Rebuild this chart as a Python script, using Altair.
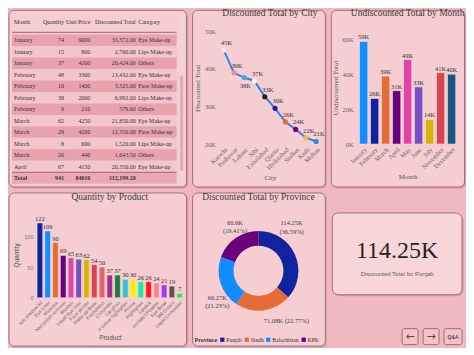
import altair as alt
import pandas as pd

# ---------------- data ----------------
table_header = ["Month", "Quantity", "Unit Price", "Discounted Total", "Category"]
table_month = ["January", "January", "January", "February", "February", "February", "February",
               "March", "March", "March", "March", "April"]
table_qty = [74, 15, 37, 48, 10, 38, 9, 62, 29, 8, 20, 67]
table_price = [9000, 800, 4200, 3300, 1400, 2000, 210, 4250, 4200, 600, 440, 4150]
table_disc = [33372.00, 2760.00, 20424.00, 13432.00, 3325.00, 6992.00, 579.60,
              21850.00, 12350.00, 1520.00, 1643.50, 20350.00]
table_cat = ["Eye Make-up", "Lips Make-up", "Others", "Eye Make-up", "Face Make-up", "Lips Make-up",
             "Others", "Eye Make-up", "Face Make-up", "Lips Make-up", "Others", "Eye Make-up"]
table_total = ["Total", "941", "84010", "312,199.20", ""]

cities = ["Karachi", "Peshawar", "Lahore", "Sibi", "Faisalabad", "Quetta", "Hyderabad",
          "Sialkot", "Kotli", "Multan"]
city_totals = [45000, 38960, 37700, 36800, 32600, 29500, 25900, 23900, 21700, 20700]
city_colors = ["#FBE3E6", "#F08C9B", "#4AA3F0", "#FFF3F4", "#1E1E1E", "#12239E", "#E66C37",
               "#6B007B", "#E5C143", "#2F86E0"]

months = ["January", "February", "March", "April", "May", "June", "July", "November", "December"]
month_totals = [59200, 26300, 39200, 30800, 48700, 33000, 14200, 41200, 40300]
month_colors = ["#118DFF", "#12239E", "#E66C37", "#6B007B", "#E044A7", "#744EC2", "#D9B300",
                "#D64550", "#1C5480"]

products = ["eye shadow kit", "Eye Liner", "Mascara", "Nail polish remover", "Blusher",
            "Liquid Eye liner", "Face primer", "Make-up Base", "Foundation", "Concealer",
            "Lip gloss", "4 colour highlighter", "Primer", "Highlighter", "Lipstick",
            "compact Powder", "Eye Brow", "BB Cream", "Liquid Concealer"]
product_qty = [122, 109, 90, 69, 65, 63, 62, 54, 50, 37, 37, 30, 30, 26, 26, 24, 21, 19, 7]
product_colors = ["#12239E", "#118DFF", "#E66C37", "#6B007B", "#E044A7", "#744EC2", "#D9B300",
                  "#D64550", "#E8606C", "#A0308C", "#1E7B3A", "#35C0D0", "#FFF000", "#20E89A",
                  "#FF1A1A", "#F28A8A", "#A03CF0", "#6A5050", "#2EE82E"]

provinces = ["Punjab", "Sindh", "Balochistan", "KPK"]
province_totals = [114250, 71080, 66270, 60600]
province_pct = [36.59, 22.77, 21.23, 19.41]
province_colors = ["#12239E", "#E66C37", "#118DFF", "#6B007B"]

card_value = "114.25K"
card_caption = "Discounted Total for Punjab"
nav_buttons = ["\u2190", "\u2192", "Q&A"]

# ---------------- style ----------------
SERIF = "Liberation Serif"
SANS = "Liberation Sans"
TXT = "#333333"
AX = "#666666"
AXT = "#555555"
BG = "#F0B9C0"
PANEL_FILL = "#F6CDD1"
CARD_FILL = "#F8D5D8"
PANEL_STROKE = "#A0707A"
STRIPE_D = "#E7A2AB"
STRIPE_L = "#F4C6CB"


def panel(x0, x1, y0, y1, fill=PANEL_FILL, r=5):
    base = alt.Chart(pd.DataFrame({"p": [0]}))
    shadow = base.mark_rect(fill="#8C5A62", opacity=0.3, cornerRadius=r).encode(
        x=alt.value(x0 + 1.5), x2=alt.value(x1 + 1.5), y=alt.value(y0 + 1.5), y2=alt.value(y1 + 1.5))
    face = base.mark_rect(fill=fill, stroke=PANEL_STROKE, strokeWidth=1, cornerRadius=r).encode(
        x=alt.value(x0), x2=alt.value(x1), y=alt.value(y0), y2=alt.value(y1))
    return [shadow, face]


def ptitle(text, offset):
    return alt.TitleParams(text, font=SERIF, fontSize=9.5, fontWeight="normal", color="#3a3a3a",
                           anchor="middle", offset=offset, zindex=1)


def kfmt():
    return "(datum.value / 1000) + 'K'"


def axis(title, font, lsize, tsize, lcolor=AX, **kw):
    return alt.Axis(title=title, labelFont=font, labelFontSize=lsize, labelColor=lcolor,
                    titleFont=font, titleFontSize=tsize, titleFontWeight="normal", titleColor=AXT,
                    grid=False, domain=False, ticks=False, zindex=2, **kw)


# ---------------- table ----------------
ROW1 = 9.0
STEP = 11.5
TH = 113
d0 = 1 - ROW1 / STEP
d1 = d0 + TH / STEP
ty = alt.Scale(domain=[d0, d1], reverse=True, nice=False, zero=False)

body_df = pd.DataFrame({
    "r": list(range(1, 13)),
    "m": table_month,
    "q": [str(v) for v in table_qty],
    "p": [str(v) for v in table_price],
    "d": [f"{v:,.2f}" for v in table_disc],
    "c": table_cat,
    "stripe": ["d" if i % 2 == 0 else "l" for i in range(12)],
})
header_df = pd.DataFrame({"r": [d0 - 9 / STEP], "m": [table_header[0]], "q": [table_header[1]],
                          "p": [table_header[2]], "d": [table_header[3]], "c": [table_header[4]]})
total_df = pd.DataFrame({"r": [13], "m": [table_total[0]], "q": [table_total[1]],
                         "p": [table_total[2]], "d": [table_total[3]], "c": [table_total[4]]})

col_pos = {"m": (-22, "left"), "q": (28, "right"), "p": (54.5, "right"), "d": (100, "right"),
           "c": (102.5, "left")}


def tcols(df, bold=False):
    out = []
    for f, (px, al) in col_pos.items():
        out.append(alt.Chart(df).mark_text(align=al, baseline="middle", font=SERIF, fontSize=6,
                                           fontWeight="bold" if bold else "normal", color=TXT).encode(
            x=alt.value(px), y=alt.Y("r:Q", scale=ty, axis=None), text=f"{f}:N"))
    return out


stripes = alt.Chart(body_df).transform_calculate(lo="datum.r - 0.5", hi="datum.r + 0.5").mark_rect().encode(
    x=alt.value(-24), x2=alt.value(141),
    y=alt.Y("lo:Q", scale=ty, axis=None), y2="hi:Q",
    color=alt.Color("stripe:N", scale=alt.Scale(domain=["d", "l"], range=[STRIPE_D, STRIPE_L]), legend=None))
total_bg = alt.Chart(total_df).transform_calculate(lo="datum.r - 0.5", hi="datum.r + 0.5").mark_rect(
    fill="#EBA8B0").encode(x=alt.value(-24), x2=alt.value(141),
                           y=alt.Y("lo:Q", scale=ty, axis=None), y2="hi:Q")
lines_df = pd.DataFrame({"y": [d0 + 1 / STEP, 12.5]})
tlines = alt.Chart(lines_df).mark_rule(color="#9A6470", strokeWidth=1).encode(
    x=alt.value(-24), x2=alt.value(141), y=alt.Y("y:Q", scale=ty, axis=None))
sb = alt.Chart(pd.DataFrame({"p": [0]}))
scroll_track = sb.mark_rect(fill="#F3D3D6", cornerRadius=2).encode(
    x=alt.value(144), x2=alt.value(148), y=alt.value(-17), y2=alt.value(150))
scroll_thumb = sb.mark_rect(fill="#E2AAB2", cornerRadius=2).encode(
    x=alt.value(144.5), x2=alt.value(147.5), y=alt.value(44), y2=alt.value(140))

table_c = alt.layer(*panel(-27, 151, -21, 156), stripes, total_bg, tlines, scroll_track, scroll_thumb,
                    *tcols(header_df), *tcols(body_df), *tcols(total_df, bold=True)).properties(
    width=148, height=TH)

# ---------------- city line ----------------
city_df = pd.DataFrame({"City": cities, "Total": city_totals})
cx = alt.X("City:N", sort=cities, scale=alt.Scale(padding=0.5),
           axis=axis("City", SERIF, 6.5, 7, labelAngle=-45, labelPadding=2, titlePadding=3))
cy = alt.Y("Total:Q", scale=alt.Scale(domain=[20000, 50000], nice=False, zero=False),
           axis=axis("Discounted Total", SERIF, 6.5, 7, values=[20000, 30000, 40000, 50000],
                     labelExpr=kfmt(), labelPadding=3, titlePadding=4))
cbase = alt.Chart(city_df).encode(x=cx, y=cy)
city_line = cbase.mark_line(color="#2F86E0", strokeWidth=2)
city_pts = cbase.mark_circle(size=26, opacity=1).encode(
    color=alt.Color("City:N", scale=alt.Scale(domain=cities, range=city_colors), legend=None))
city_lbl = cbase.transform_calculate(lbl="round(datum.Total / 1000) + 'K'").transform_filter(
    "datum.City != 'Lahore'").mark_text(font=SERIF, fontSize=6.5, color=TXT, dx=3, dy=-7).encode(text="lbl:N")
city_lbl2 = cbase.transform_calculate(lbl="round(datum.Total / 1000) + 'K'").transform_filter(
    "datum.City == 'Lahore'").mark_text(font=SERIF, fontSize=6.5, color=TXT, dx=1, dy=8).encode(text="lbl:N")
city_c = alt.layer(*panel(-26, 107, -21, 156), city_line, city_pts, city_lbl, city_lbl2).properties(
    width=103, height=113, title=ptitle("Discounted Total by City", -8))

# ---------------- month bars ----------------
month_df = pd.DataFrame({"Month": months, "Total": month_totals})
mx = alt.X("Month:N", sort=months, scale=alt.Scale(paddingInner=0.25, paddingOuter=0.3),
           axis=axis("Month", SERIF, 6.5, 7, labelAngle=-45, labelPadding=2, titlePadding=3))
my = alt.Y("Total:Q", scale=alt.Scale(domain=[0, 65000], nice=False),
           axis=axis("Undiscounted Total", SERIF, 6.5, 7, values=[0, 20000, 40000, 60000],
                     labelExpr=kfmt(), labelPadding=3, titlePadding=4))
mbase = alt.Chart(month_df).encode(x=mx, y=my)
month_bars = mbase.mark_bar(stroke="#F9E3E6", strokeWidth=0.6).encode(
    color=alt.Color("Month:N", scale=alt.Scale(domain=months, range=month_colors), legend=None))
month_lbl = mbase.transform_calculate(lbl="round(datum.Total / 1000) + 'K'").mark_text(
    font=SERIF, fontSize=6.5, color=TXT, baseline="bottom", dy=-1).encode(text="lbl:N")
month_c = alt.layer(*panel(-25, 108.5, -21, 156), month_bars, month_lbl).properties(
    width=103, height=113, title=ptitle("Undiscounted Total by Month", -8))

# ---------------- product bars ----------------
prod_df = pd.DataFrame({"Product": products, "Qty": product_qty})
px_ = alt.X("Product:N", sort=products, scale=alt.Scale(paddingInner=0.28, paddingOuter=0.15),
            axis=axis("Product", SANS, 4.8, 6.5, labelAngle=-45, labelPadding=2, titlePadding=2))
py_ = alt.Y("Qty:Q", scale=alt.Scale(domain=[0, 140], nice=False),
            axis=axis("Quantity", SANS, 5.5, 6.5, lcolor="#777", values=[0, 50, 100],
                      labelPadding=3, titlePadding=4))
pbase = alt.Chart(prod_df).encode(x=px_, y=py_)
prod_bars = pbase.mark_bar(stroke="#F9E3E6", strokeWidth=0.5).encode(
    color=alt.Color("Product:N", scale=alt.Scale(domain=products, range=product_colors), legend=None))
prod_lbl = pbase.mark_text(font=SERIF, fontSize=6.5, color=TXT, baseline="bottom", dy=-1).encode(text="Qty:Q")
product_c = alt.layer(*panel(-27, 151, -19, 134.5), prod_bars, prod_lbl).properties(
    width=148, height=86, title=ptitle("Quantity by Product", -9))

# ---------------- donut ----------------
prov_lbl = []
for i, (v, p) in enumerate(zip(province_totals, province_pct)):
    sep = " " if provinces[i] == "Sindh" else "\n"
    prov_lbl.append(f"{v / 1000:g}K{sep}({p:.2f}%)")
prov_df = pd.DataFrame({"Province": provinces, "v": province_totals, "idx": list(range(4)), "lbl": prov_lbl})
theta_scale = alt.Scale(domain=[0, sum(province_totals)])
arcs = alt.Chart(prov_df).mark_arc(innerRadius=25, outerRadius=40).encode(
    theta=alt.Theta("v:Q", stack=True, scale=theta_scale),
    color=alt.Color("Province:N", sort=provinces, scale=alt.Scale(domain=provinces, range=province_colors),
                    legend=alt.Legend(orient="none", legendX=-24, legendY=125, direction="horizontal",
                                      title="Province", titleOrient="left", titleFont=SERIF,
                                      titleFontSize=6, titleFontWeight="bold", titleColor=TXT,
                                      titlePadding=2, labelFont=SERIF, labelFontSize=5.6, labelColor=TXT,
                                      symbolType="square", symbolSize=18, symbolStrokeWidth=0,
                                      labelOffset=1.2, columnPadding=1.5, zindex=2)),
    order=alt.Order("idx:Q"))
label_shift = [(-17, -25), (21, -4), (11, 10), (8, -3)]
donut_labels = []
for i, (ddx, ddy) in enumerate(label_shift):
    donut_labels.append(
        alt.Chart(prov_df).transform_window(cum="sum(v)", sort=[alt.SortField("idx")], frame=[None, 0])
        .transform_calculate(mid="datum.cum - datum.v / 2").transform_filter(f"datum.idx == {i}")
        .mark_text(radius=55, dx=ddx, dy=ddy, font=SERIF, fontSize=6.5, color="#444", lineBreak="\n",
                   align="center", baseline="middle")
        .encode(theta=alt.Theta("mid:Q", stack=False, scale=theta_scale), text="lbl:N"))
donut_c = alt.layer(*panel(-26, 107, -19, 134.5), arcs, *donut_labels).properties(
    width=80, height=118, title=ptitle("Discounted Total by Province", -9))

# ---------------- card ----------------
card_df = pd.DataFrame({"value": [card_value], "caption": [card_caption]})
card_val = alt.Chart(card_df).mark_text(font=SERIF, fontSize=24, color="#252423", baseline="middle").encode(
    x=alt.value(41), y=alt.value(39), text="value:N")
card_cap = alt.Chart(card_df).mark_text(font=SANS, fontSize=6, color="#605E5C", baseline="middle").encode(
    x=alt.value(41), y=alt.value(62), text="caption:N")
btn_layers = []
btn_x = [(46, 62), (67, 83), (88, 106)]
for (bx0, bx1), lab in zip(btn_x, nav_buttons):
    bdf = pd.DataFrame({"b": [lab]})
    btn_layers.append(alt.Chart(bdf).mark_rect(fill="#F4C3C8", stroke="#9E6A70", strokeWidth=1,
                                               cornerRadius=2).encode(
        x=alt.value(bx0), x2=alt.value(bx1), y=alt.value(117), y2=alt.value(133)))
    big = lab != "Q&A"
    btn_layers.append(alt.Chart(bdf).mark_text(font="DejaVu Sans" if big else SANS, fontSize=11 if big else 5,
                                               fontWeight="normal" if big else "bold",
                                               color="#5a4a4e", baseline="middle").encode(
        x=alt.value((bx0 + bx1) / 2), y=alt.value(125), text="b:N"))
card_c = alt.layer(*panel(-24, 106, 1, 83, fill=CARD_FILL, r=6), card_val, card_cap, *btn_layers).properties(
    width=103, height=92)

# ---------------- dashboard ----------------
chart = alt.concat(table_c, city_c, month_c, product_c, donut_c, card_c, columns=3,
                   spacing={"row": 68, "column": 35}, bounds="flush", align="each").resolve_scale(
    color="independent").properties(
    background=BG, padding=0).configure_view(strokeWidth=0).configure_axis(
    zindex=2, titleFontWeight="normal")

chart.save("out.html", embed_options={"renderer": "svg", "actions": False})
